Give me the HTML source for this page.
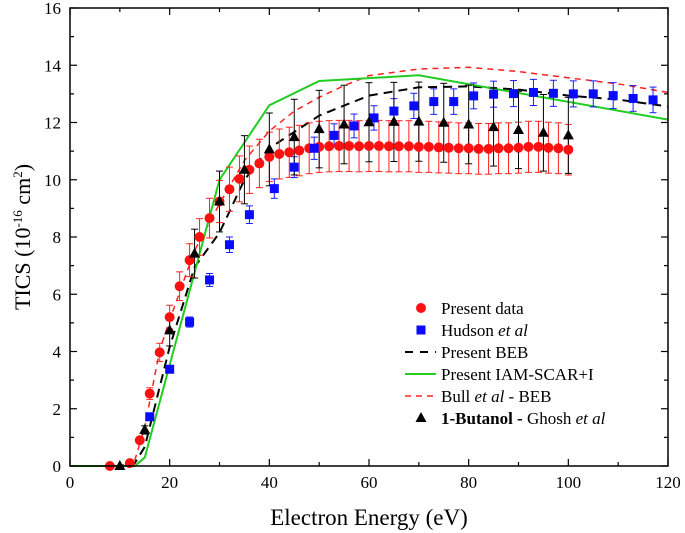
<!DOCTYPE html>
<html><head><meta charset="utf-8"><style>
html,body{margin:0;padding:0;background:#fff}
svg{display:block;font-family:"Liberation Serif",serif}
.leg text{font-family:"Liberation Serif",serif;font-size:17px}
</style></head><body>
<svg id="chart" width="685" height="533" viewBox="0 0 685 533">
<g id="marks"></g>
<g id="axes"></g>
</svg>
<script>
const presentX=[8,12,14,16,18,20,22,24,26,28,30,32,34,36,38,40,42,44,46,48,50,52,54,56,58,60,62,64,66,68,70,72,74,76,78,80,82,84,86,88,90,92,94,96,98,100];
const presentY=[0,0.1,0.9,2.53,3.97,5.2,6.28,7.19,8.0,8.66,9.24,9.67,10.03,10.35,10.57,10.8,10.9,10.96,11.02,11.1,11.15,11.17,11.18,11.18,11.17,11.18,11.18,11.17,11.17,11.17,11.15,11.15,11.13,11.12,11.1,11.1,11.08,11.08,11.1,11.1,11.12,11.15,11.15,11.12,11.1,11.05];
const hudsonX=[16,20,24,28,32,36,41,45,49,53,57,61,65,69,73,77,81,85,89,93,97,101,105,109,113,117];
const hudsonY=[1.72,3.38,5.03,6.5,7.73,8.78,9.69,10.44,11.1,11.55,11.88,12.16,12.4,12.58,12.73,12.73,12.93,12.99,13.01,13.05,13.02,13.0,13.0,12.94,12.84,12.79];
const ghoshX=[10,15,20,25,30,35,40,45,50,55,60,65,70,75,80,85,90,95,100];
const ghoshY=[0,1.26,4.74,7.42,9.24,10.35,11.06,11.49,11.77,11.93,12.01,12.02,12.03,11.99,11.93,11.84,11.74,11.64,11.55];
const iamX=[0,13,15,30,40,50,70,120];
const iamY=[0,0,0.3,10,12.6,13.45,13.65,12.1];
const bebX=[0,10,13,15,20,25,30,35,40,50,60,70,80,90,100,110,120];
const bebY=[0,0,0.1,0.67,4.16,6.95,8.15,10.0,11.1,12.24,12.94,13.23,13.26,13.15,12.94,12.8,12.56];
const bullX=[0,11,13,15,18,20,25,30,35,40,45,50,55,60,70,80,90,100,110,120];
const bullY=[0,0,0.2,1.37,4.05,5.1,7.53,9.16,10.67,11.7,12.4,12.88,13.29,13.64,13.87,13.93,13.78,13.56,13.35,13.05];
const xTicks=[0,20,40,60,80,100,120];
const yTicks=[0,2,4,6,8,10,12,14,16];

const X0=70,X1=668,Y0=466,Y1=8;
const sx=v=>X0+(v/120)*(X1-X0);
const sy=v=>Y0-(v/16)*(Y0-Y1);
const NS="http://www.w3.org/2000/svg";
const marks=document.getElementById('marks');
const axes=document.getElementById('axes');
function mk(tag,attrs,parent){const e=document.createElementNS(NS,tag);for(const k in attrs)e.setAttribute(k,attrs[k]);parent.appendChild(e);return e;}
function line(xs,ys,stroke,w,dash,name){
  const d=xs.map((x,i)=>(i?'L':'M')+sx(x).toFixed(1)+','+sy(ys[i]).toFixed(1)).join('');
  const p=mk('path',{d:d,fill:'none',stroke:stroke,'stroke-width':w,'stroke-dasharray':dash},marks);
  
  
}
function errbar(x,y,e,color,name){
  const g=mk('g',{stroke:color,'stroke-width':1},marks);
  
  
  const cx=sx(x),t=sy(y+e),b=sy(y-e);
  mk('line',{x1:cx,x2:cx,y1:t,y2:b},g);
  mk('line',{x1:cx-3.5,x2:cx+3.5,y1:t,y2:t},g);
  mk('line',{x1:cx-3.5,x2:cx+3.5,y1:b,y2:b},g);
}
line(bullX,bullY,'#ff2020',1.5,'6,5','bull-beb-line');
line(bebX,bebY,'#000',2,'9,6','present-beb-line');
line(iamX,iamY,'#22cc22',2,'','iam-scar-line');
presentX.forEach((x,i)=>{if(presentY[i]>0.5)errbar(x,presentY[i],presentY[i]*0.08,'#ff2020','present-errorbar');});
hudsonX.forEach((x,i)=>errbar(x,hudsonY[i],hudsonY[i]*0.035,'#1a1aff','hudson-errorbar'));
ghoshX.forEach((x,i)=>{if(ghoshY[i]>0.5)errbar(x,ghoshY[i],ghoshY[i]*0.115,'#000','ghosh-errorbar');});
presentX.forEach((x,i)=>{
  const c=mk('circle',{cx:sx(x),cy:sy(presentY[i]),r:5,fill:'#ff1010'},marks);
  
  
});
hudsonX.forEach((x,i)=>{
  const r=mk('rect',{x:sx(x)-4.5,y:sy(hudsonY[i])-4.5,width:9,height:9,fill:'#0a0aff'},marks);
  
  
});
ghoshX.forEach((x,i)=>{
  const cx=sx(x),cy=sy(ghoshY[i]);
  const p=mk('path',{d:`M${cx},${cy-6}L${cx+5.5},${cy+4}L${cx-5.5},${cy+4}Z`,fill:'#000'},marks);
  
  
});
const fr=mk('rect',{x:X0,y:Y1,width:X1-X0,height:Y0-Y1,fill:'none',stroke:'#000','stroke-width':1.5},axes);


for(let v=0;v<=120;v+=10){
  const x=sx(v),L=v%20===0?7:4;
  mk('line',{x1:x,x2:x,y1:Y0,y2:Y0-L,stroke:'#000','stroke-width':1.2},axes);
  mk('line',{x1:x,x2:x,y1:Y1,y2:Y1+L,stroke:'#000','stroke-width':1.2},axes);
}
for(let v=0;v<=16;v+=1){
  const y=sy(v),L=v%2===0?7:4;
  mk('line',{x1:X0,x2:X0+L,y1:y,y2:y,stroke:'#000','stroke-width':1.2},axes);
  mk('line',{x1:X1,x2:X1-L,y1:y,y2:y,stroke:'#000','stroke-width':1.2},axes);
}
xTicks.forEach(v=>{
  const t=mk('text',{x:sx(v),y:Y0+22,'text-anchor':'middle','font-size':17},axes);
  t.textContent=v;
  
  
});
yTicks.forEach(v=>{
  const t=mk('text',{x:X0-9,y:sy(v)+6,'text-anchor':'end','font-size':17},axes);
  t.textContent=v;
  
  
});
</script>
<svg style="position:absolute;left:0;top:0;font-family:'Liberation Serif',serif" width="685" height="533">
<text x="369" y="525" text-anchor="middle" style="font-size:23px">Electron Energy (eV)</text>
<text transform="translate(30,237) rotate(-90)" text-anchor="middle" style="font-size:22px">TICS (10<tspan dy="-8" style="font-size:13px">-16</tspan><tspan dy="8"> cm</tspan><tspan dy="-8" style="font-size:13px">2</tspan><tspan dy="8">)</tspan></text>
<g class="leg">
<circle cx="421" cy="308" r="5" fill="#ff1010"/>
<text x="441" y="314">Present data</text>
<rect x="416.5" y="325.5" width="9" height="9" fill="#0a0aff"/>
<text x="441" y="336">Hudson <tspan font-style="italic">et al</tspan></text>
<line x1="405" x2="436" y1="352" y2="352" stroke="#000" stroke-width="2" stroke-dasharray="8,7"/>
<text x="441" y="358">Present BEB</text>
<line x1="405" x2="436" y1="374" y2="374" stroke="#22cc22" stroke-width="2"/>
<text x="441" y="380">Present IAM-SCAR+I</text>
<line x1="405" x2="436" y1="396" y2="396" stroke="#ff2020" stroke-width="1.5" stroke-dasharray="6,5"/>
<text x="441" y="402">Bull <tspan font-style="italic">et al</tspan> - BEB</text>
<path d="M421,412L426.5,422L415.5,422Z" fill="#000"/>
<text x="441" y="424"><tspan font-weight="bold">1-Butanol -</tspan> Ghosh <tspan font-style="italic">et al</tspan></text>
</g>
</svg>
</body></html>
